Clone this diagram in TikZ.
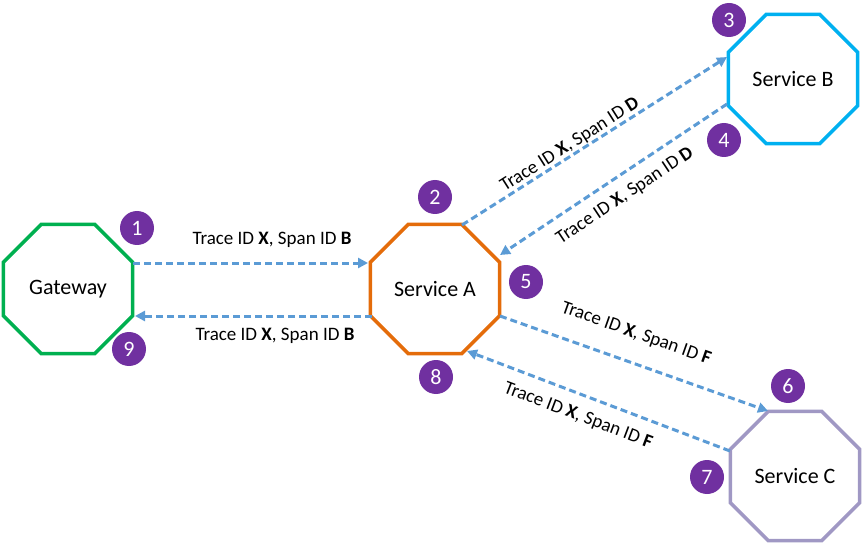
\documentclass[tikz,border=0pt]{standalone}
\usepackage{fontspec}
\setmainfont{Carlito}
\usetikzlibrary{shapes.geometric,arrows.meta}
\definecolor{gw}{RGB}{0,176,80}
\definecolor{sa}{RGB}{228,108,10}
\definecolor{sb}{RGB}{0,176,240}
\definecolor{sc}{RGB}{160,152,196}
\definecolor{pu}{RGB}{112,48,160}
\definecolor{ar}{RGB}{91,155,213}
\tikzset{
 oct/.style={regular polygon,regular polygon sides=8,minimum size=140pt,inner sep=0pt,line width=3.5pt,draw=#1,font=\fontsize{22}{26}\selectfont},
 num/.style={circle,fill=pu,text=white,minimum size=34pt,inner sep=0pt,font=\fontsize{22}{24}\selectfont},
 con/.style={draw=ar,line width=3pt,dash pattern=on 7pt off 4pt,-{Triangle[length=10pt,width=10pt]}},
 lab/.style={font=\fontsize{19}{22}\selectfont,inner sep=1pt}
}
\begin{document}
\begin{tikzpicture}[x=1pt,y=-1pt]
\useasboundingbox (0,0) rectangle (863,559);
\node[oct=gw] (g) at (68,289) {Gateway};
\node[oct=sa] (a) at (435,289) {Service A};
\node[oct=sb] (b) at (793,79) {Service B};
\node[oct=sc] (c) at (795,476) {Service C};
\foreach \n/\x/\y in {1/137/228,2/435/197,3/729/20,4/724/140,5/526/282,6/788/386,7/707/477,8/436/377,9/129/349}
  \node[num] (n\n) at (\x,\y) {\n};
\coordinate (g1) at (133,263); \coordinate (a1) at (368,263);
\coordinate (a2) at (372,316); \coordinate (g2) at (135,316);
\coordinate (a3) at (462,225); \coordinate (b3) at (727,57);
\coordinate (b4) at (727,104); \coordinate (a4) at (500,255);
\coordinate (a5) at (500,316); \coordinate (c5) at (768,411);
\coordinate (c6) at (730,451); \coordinate (a6) at (467,351);
\draw[con] (g1) -- (a1);
\draw[con] (a2) -- (g2);
\draw[con] (a3) -- (b3);
\draw[con] (b4) -- (a4);
\draw[con] (a5) -- (c5);
\draw[con] (c6) -- (a6);
\node[lab] (l1) at (272,240) {Trace ID \textbf{X}, Span ID \textbf{B}};
\node[lab] (l2) at (275,336) {Trace ID \textbf{X}, Span ID \textbf{B}};
\node[lab,rotate=32.4] (l3) at (570,145) {Trace ID \textbf{X}, Span ID \textbf{D}};
\node[lab,rotate=33.6] (l4) at (625,196) {Trace ID \textbf{X}, Span ID \textbf{D}};
\node[lab,rotate=-19.5] (l5) at (636,334) {Trace ID \textbf{X}, Span ID \textbf{F}};
\node[lab,rotate=-20.8] (l6) at (578,416) {Trace ID \textbf{X}, Span ID \textbf{F}};
\end{tikzpicture}
\end{document}
